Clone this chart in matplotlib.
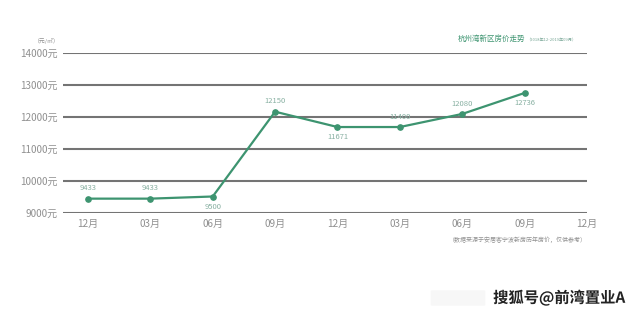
import matplotlib
matplotlib.use("Agg")
import matplotlib.pyplot as plt
import matplotlib.patheffects as pe
from matplotlib.patches import FancyBboxPatch

plt.rcParams['font.family'] = ['Noto Sans CJK SC', 'DejaVu Sans']

months = ["12月", "03月", "06月", "09月", "12月", "03月", "06月", "09月", "12月"]
prices = [9433, 9433, 9500, 12150, 11671, 11671, 12080, 12736]
point_labels = ["9433", "9433", "9500", "12150", "11671", "11400", "12080", "12736"]
label_above = [True, True, False, True, False, True, True, False]
yticks = [9000, 10000, 11000, 12000, 13000, 14000]
ytick_labels = [f"{v}元" for v in yticks]

green = "#3d9470"
gray_txt = "#909090"

fig = plt.figure(figsize=(6.41, 3.16), dpi=100)
fig.patch.set_facecolor("white")
ax = fig.add_axes([63/641, 1-212.5/316, (587-63)/641, (212-52)/316])
ax.set_xlim(-0.4, len(months)-1)
ax.set_ylim(9000, 14000)
for v in yticks:
    ax.axhline(v, color="#747474", lw=1.5, zorder=1)

xs = list(range(len(prices)))
ax.plot(xs, prices, color=green, lw=1.6, marker="o", ms=3.8, zorder=3)
for x, y, t, up in zip(xs, prices, point_labels, label_above):
    ax.annotate(t, (x, y), xytext=(0, 7.5 if up else -7.5), textcoords="offset points",
                ha="center", va="center", fontsize=5.5, color="#88b0a2")

for s in ax.spines.values():
    s.set_visible(False)
ax.set_yticks(yticks)
ax.set_yticklabels(ytick_labels, fontsize=7.2, color=gray_txt)
ax.set_xticks(range(len(months)))
ax.set_xticklabels(months, fontsize=7.2, color=gray_txt)
ax.tick_params(length=0, pad=5)
ax.tick_params(axis='y', pad=4)

fig.text(60/641, 1-41/316, "（元/㎡）", fontsize=4.2, color=gray_txt, ha="right", va="center")
fig.text(458/641, 1-39/316, "杭州湾新区房价走势", fontsize=5.4, color=green, ha="left", va="center")
fig.text(526/641, 1-40/316, "（2018年12-2019年09月）", fontsize=3.0, color="#7aa898", ha="left", va="center")
fig.text(587/641, 1-240/316, "（数据来源于安居客宁波新房历年房价，仅供参考）", fontsize=4.3,
         color=gray_txt, ha="right", va="center")
fig.patches.append(FancyBboxPatch((432/641, 1-305/316), 52/641, 14/316,
                                  boxstyle="round,pad=0.002", transform=fig.transFigure,
                                  facecolor="#f7f7f7", edgecolor="none"))
fig.text(625/641, 1-298/316, "搜狐号@前湾置业A", fontsize=11, color="#222222", ha="right",
         va="center", fontweight="bold",
         path_effects=[pe.withStroke(linewidth=2, foreground="white")])

fig.savefig("out.png", dpi=100, facecolor="white")
